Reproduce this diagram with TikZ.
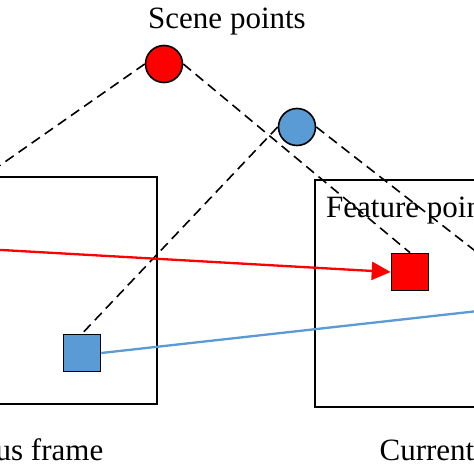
\documentclass[tikz,border=0pt]{standalone}
\usepackage{fontspec}
\setmainfont{Liberation Serif}
\usetikzlibrary{arrows.meta}
\definecolor{rojo}{HTML}{FF0000}
\definecolor{azul}{HTML}{5B9BD5}
\begin{document}
\begin{tikzpicture}[x=1pt,y=-1pt,
    punto/.style={circle,draw=black,line width=1.6pt,minimum size=37pt,inner sep=0pt},
    rasgo/.style={rectangle,draw=black,line width=1.6pt,minimum size=37pt,inner sep=0pt},
    marco/.style={draw=black,line width=2.8pt},
    proy/.style={dash pattern=on 10pt off 6pt,line width=1.6pt},
    texto/.style={font=\fontsize{31}{36}\selectfont,inner sep=0pt}]
  \useasboundingbox (0,0) rectangle (474,474);
  \fill[white] (0,0) rectangle (474,474);
  \clip (0,0) rectangle (474,474);

  % Marcos (anterior y actual)
  \draw[marco] (-139,177) rectangle (157,404);
  \draw[marco] (315,180) rectangle (611,407);

  % Textos
  \node[texto,anchor=base] (tscene) at (227,28) {Scene points};
  \node[texto,anchor=base west] (tfeat) at (326,217) {Feature points};
  \node[texto,anchor=base] (tprev) at (9,460) {Previous frame};
  \node[texto,anchor=base] (tcur) at (467,460) {Current frame};

  % Puntos de la escena y puntos de rasgo
  \node[punto,fill=rojo] (sceneR) at (164,64) {};
  \node[punto,fill=azul] (sceneB) at (297,127) {};
  \node[rasgo,fill=rojo] (featR) at (410,272) {};
  \node[rasgo,fill=azul] (featB) at (82,353) {};
  % extremos fuera del recorte
  \coordinate (prevRtop) at (-88,227);
  \coordinate (prevRright) at (-69,246);
  \coordinate (curBtop) at (524,289);
  \coordinate (curBleft) at (505,308);

  % Proyecciones
  \draw[proy] (sceneR.west) -- (prevRtop);
  \draw[proy] (sceneR.east) -- (featR.north);
  \draw[proy] (sceneB.west) -- (featB.north);
  \draw[proy] (sceneB.east) -- (curBtop);

  % Correspondencias
  \draw[rojo,line width=2.3pt,-{Triangle[length=19pt,width=18pt]}] (prevRright) -- (featR.west);
  \draw[azul,line width=2.3pt] (featB.east) -- (curBleft);
\end{tikzpicture}
\end{document}
